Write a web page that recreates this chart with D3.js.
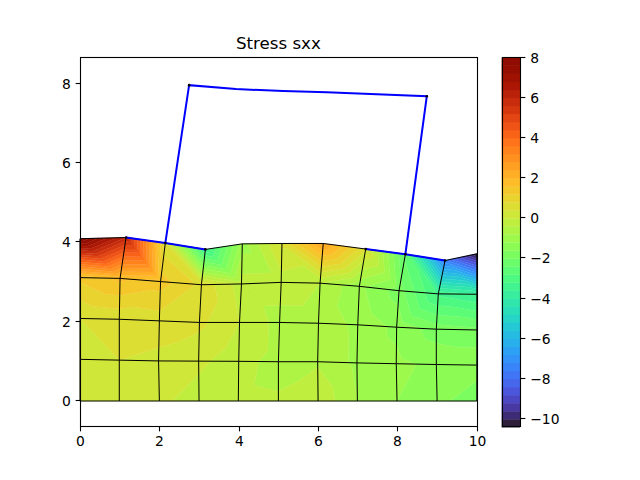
<!DOCTYPE html>
<html>
<head>
<meta charset="utf-8">
<script src="https://cdn.jsdelivr.net/npm/d3@7"></script>
<style>
html, body { margin: 0; padding: 0; background: #fff; }
svg { display: block; }
text { font-family: "DejaVu Sans", sans-serif; fill: #000; }
</style>
</head>
<body>
<svg id="chart" width="640" height="480"></svg>
<script>
// Deformed mesh: node rows run from the base (y = 0) to the free surface.
const meshX = [
  [0, 0.99, 2.00, 3.00, 3.99, 5.00, 6.00, 6.99, 7.99, 9.00, 10],
  [0, 0.99, 1.98, 2.99, 4.00, 5.00, 5.99, 6.98, 7.97, 8.98, 10],
  [0, 0.99, 2.00, 3.01, 4.02, 5.03, 6.01, 7.00, 7.98, 8.98, 10],
  [0, 1.01, 2.03, 3.06, 4.07, 5.07, 6.05, 7.04, 8.04, 9.03, 10],
  [0, 1.16, 2.15, 3.16, 4.09, 5.09, 6.13, 7.20, 8.20, 9.20, 10]
];
const meshY = [
  [0, 0, 0, 0, 0, 0, 0, 0, 0, 0, 0],
  [1.05, 1.03, 1.01, 1.005, 1.00, 0.99, 0.99, 0.96, 0.94, 0.92, 0.905],
  [2.08, 2.06, 2.02, 1.98, 1.98, 1.98, 1.96, 1.92, 1.86, 1.81, 1.79],
  [3.11, 3.09, 3.01, 2.93, 2.95, 2.99, 2.97, 2.89, 2.78, 2.70, 2.69],
  [4.09, 4.12, 3.98, 3.82, 3.96, 3.97, 3.97, 3.83, 3.70, 3.54, 3.71]
];
// Nodal values of the xx stress component.
const stressXX = [
  [0.3, 0.3, 0.1, -0.2, -0.3, -0.35, -0.1, -0.8, -1.2, -1.4, -2.0],
  [0.3, 0.4, 0.3, 0.1, -0.25, -0.55, -0.45, -0.9, -1.1, -1.3, -1.3],
  [0.4, 0.5, 0.6, 0.5, 0.0, -0.55, -0.55, -0.9, -1.3, -1.8, -1.9],
  [1.3, 1.7, 1.4, 0.7, -0.2, -0.2, -0.4, -1.1, -1.8, -3.3, -3.6],
  [8.0, 6.0, 0.5, -3.5, -1.0, 0.5, 2.5, 0.5, -2.5, -7.5, -10.4]
];
// Rigid block outline and its two contact segments on the surface.
const blockX = [2.15, 2.75, 3.93, 5.12, 6.22, 7.48, 8.74, 8.20];
const blockY = [3.98, 7.96, 7.86, 7.81, 7.78, 7.73, 7.68, 3.70];
const contactX = [[1.16, 2.15, 3.16], [7.20, 8.20, 9.20]];
const contactY = [[4.12, 3.98, 3.82], [3.83, 3.70, 3.54]];
// Contour levels and axis ticks.
const levelMin = -10.4, levelStep = 0.4, levelCount = 46;
const xTicks = [0, 2, 4, 6, 8, 10];
const yTicks = [0, 2, 4, 6, 8];
const barTicks = [8, 6, 4, 2, 0, -2, -4, -6, -8, -10];

const svg = d3.select("#chart");
const plot = { left: 80, right: 476.8, top: 57.6, bottom: 427.2 };
const bar = { left: 501.6, right: 520.08 };

const x = d3.scaleLinear().domain([0, 10]).range([plot.left, plot.right]);
const y = d3.scaleLinear().domain([-0.66, 8.654]).range([plot.bottom, plot.top]);
const cValue = d3.scaleLinear().domain([levelMin, 8]).range([0, 1]);
const barY = d3.scaleLinear().domain([levelMin, 8]).range([plot.bottom, plot.top]);

const nodes = [];
meshX.forEach((row, j) => row.forEach((px, i) => {
  nodes.push({ x: px, y: meshY[j][i], v: stressXX[j][i] });
}));
const levels = d3.range(levelCount).map(k => levelMin + k * levelStep);

// Delaunay triangles over the nodes, dropping those that fall outside the mesh outline.
const outline = [
  ...meshX[0].map((px, i) => [px, meshY[0][i]]),
  ...meshX[meshX.length - 1].map((px, i) => [px, meshY[meshX.length - 1][i]]).reverse()
];
const delaunay = d3.Delaunay.from(nodes, d => d.x, d => d.y);
const tris = d3.range(delaunay.triangles.length / 3)
  .map(t => [0, 1, 2].map(k => nodes[delaunay.triangles[3 * t + k]]))
  .filter(tri => d3.polygonContains(outline, [d3.mean(tri, d => d.x), d3.mean(tri, d => d.y)]));

// Clip a polygon carrying nodal values against v >= c (sign 1) or v <= c (sign -1).
function clip(poly, c, sign) {
  const out = [];
  poly.forEach((a, k) => {
    const b = poly[(k + 1) % poly.length];
    const da = sign * (a.v - c), db = sign * (b.v - c);
    if (da >= 0) out.push(a);
    if ((da >= 0) !== (db >= 0)) {
      const t = da / (da - db);
      out.push({ x: a.x + t * (b.x - a.x), y: a.y + t * (b.y - a.y), v: c });
    }
  });
  return out;
}

const fills = svg.append("g");
levels.forEach(lo => {
  const hi = lo + levelStep;
  const color = d3.interpolateTurbo(cValue(lo + levelStep / 2));
  let d = "";
  tris.forEach(tri => {
    let p = clip(tri, lo, 1);
    if (p.length) p = clip(p, hi, -1);
    if (p.length > 2) {
      d += "M" + p.map(q => x(q.x).toFixed(2) + "," + y(q.y).toFixed(2)).join("L") + "Z";
    }
  });
  if (d) fills.append("path").attr("d", d).attr("fill", color)
    .attr("stroke", color).attr("stroke-width", 0.35);
});

// Mesh lines along both node directions.
const pathLine = d3.line().x(d => x(d[0])).y(d => y(d[1]));
const meshG = svg.append("g").attr("fill", "none").attr("stroke", "#000").attr("stroke-width", 1);
meshX.forEach((row, j) => {
  meshG.append("path").attr("d", pathLine(row.map((px, i) => [px, meshY[j][i]])));
});
meshX[0].forEach((_, i) => {
  meshG.append("path").attr("d", pathLine(meshX.map((row, j) => [row[i], meshY[j][i]])));
});

// Block outline and contact edges in blue, with small node markers.
const blue = svg.append("g").attr("fill", "none").attr("stroke", "#0000ff").attr("stroke-width", 2);
blue.append("path").attr("d", pathLine(blockX.map((px, i) => [px, blockY[i]])));
contactX.forEach((row, j) => {
  blue.append("path").attr("d", pathLine(row.map((px, i) => [px, contactY[j][i]])));
});
const markers = [[blockX[1], blockY[1]], [blockX[6], blockY[6]]];
contactX.forEach((row, j) => row.forEach((px, i) => markers.push([px, contactY[j][i]])));
svg.append("g").selectAll("circle").data(markers).join("circle")
  .attr("cx", d => x(d[0])).attr("cy", d => y(d[1])).attr("r", 1.3).attr("fill", "#000");

// Colour bar bands.
const barG = svg.append("g");
levels.forEach(lo => {
  const hi = lo + levelStep;
  barG.append("rect")
    .attr("x", bar.left).attr("width", bar.right - bar.left)
    .attr("y", barY(hi)).attr("height", barY(lo) - barY(hi) + 0.3)
    .attr("fill", d3.interpolateTurbo(cValue(lo + levelStep / 2)));
});

// Frame edges and tick marks sit on pixel centres.
const snapX = v => Math.floor(v + 0.5) + 0.5;
const snapY = v => 480 - (Math.floor(480 - v + 0.5) + 0.5);
function frame(l, r, t, b) {
  svg.append("rect").attr("x", snapX(l)).attr("y", snapY(t))
    .attr("width", snapX(r) - snapX(l)).attr("height", snapY(b) - snapY(t))
    .attr("fill", "none").attr("stroke", "#000").attr("stroke-width", 1.1);
}
frame(plot.left, plot.right, plot.top, plot.bottom);
frame(bar.left, bar.right, plot.top, plot.bottom);

const fmt = v => (v < 0 ? "\u2212" + Math.abs(v) : String(v));
const tickSize = 4.86, tickPad = 4.86, fontSize = 13.89;

function styleAxis(g) {
  g.selectAll(".domain").remove();
  g.selectAll(".tick line").attr("stroke", "#000").attr("stroke-width", 1.1);
  g.selectAll(".tick text").attr("font-size", fontSize)
    .attr("font-family", "DejaVu Sans").attr("fill", "#000");
}
const bottomG = svg.append("g").attr("transform", `translate(0,${snapY(plot.bottom)})`)
  .call(d3.axisBottom(x).tickValues(xTicks).tickFormat(fmt).tickSize(tickSize).tickPadding(tickPad))
  .call(styleAxis);
bottomG.selectAll(".tick").attr("transform", d => `translate(${snapX(x(d))},0)`);
const leftG = svg.append("g").attr("transform", `translate(${snapX(plot.left)},0)`)
  .call(d3.axisLeft(y).tickValues(yTicks).tickFormat(fmt).tickSize(tickSize).tickPadding(tickPad))
  .call(styleAxis);
leftG.selectAll(".tick").attr("transform", d => `translate(0,${snapY(y(d))})`);
leftG.selectAll(".tick text").attr("dy", "0.36em");
const rightG = svg.append("g").attr("transform", `translate(${snapX(bar.right)},0)`)
  .call(d3.axisRight(barY).tickValues(barTicks).tickFormat(fmt).tickSize(tickSize).tickPadding(tickPad))
  .call(styleAxis);
rightG.selectAll(".tick").attr("transform", d => `translate(0,${snapY(barY(d))})`);
rightG.selectAll(".tick text").attr("dy", "0.38em");

svg.append("text")
  .attr("x", (plot.left + plot.right) / 2).attr("y", 49)
  .attr("text-anchor", "middle").attr("font-size", 16.67)
  .text("Stress sxx");
</script>
</body>
</html>
